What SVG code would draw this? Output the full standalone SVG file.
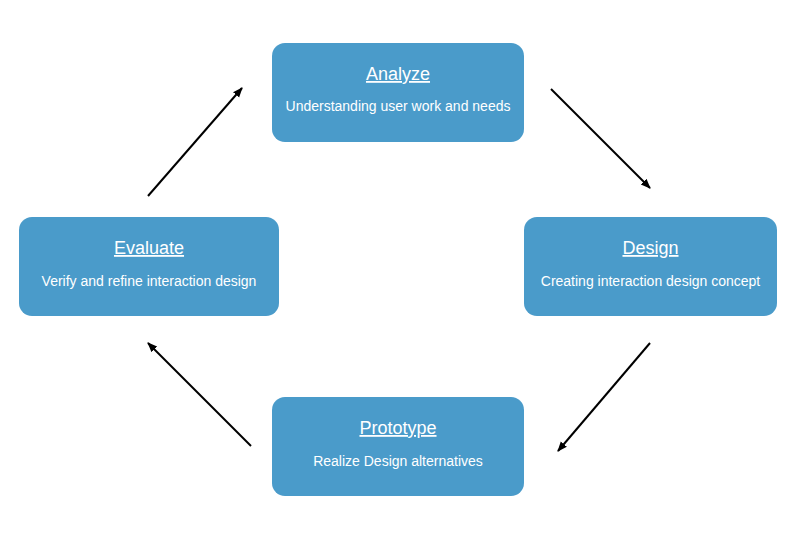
<svg xmlns="http://www.w3.org/2000/svg" width="802" height="544" viewBox="0 0 802 544">
<style>
.box{fill:#4a9bca}
.t{font-family:"Liberation Sans",Arial,sans-serif;fill:#fff;text-anchor:middle}
.h{font-size:18px;text-decoration:underline}
.s{font-size:14px}
.c{stroke:#000;stroke-width:2;fill:none;marker-end:url(#a)}
</style>
<defs><marker id="a" viewBox="0 0 10 10" refX="9" refY="5" markerWidth="5" markerHeight="5" orient="auto" markerUnits="strokeWidth"><path d="M0,1 L10,5 L0,9 z" fill="#000"/></marker></defs>
<rect width="802" height="544" fill="#fff"/>
<g id="analyze"><rect class="box" x="272" y="43" width="252" height="99" rx="13"/><text class="t h" x="398" y="80">Analyze</text><text class="t s" x="398" y="111">Understanding user work and needs</text></g>
<g id="design"><rect class="box" x="524" y="217" width="253" height="99" rx="13"/><text class="t h" x="650.5" y="254">Design</text><text class="t s" x="650.5" y="286">Creating interaction design concept</text></g>
<g id="evaluate"><rect class="box" x="19" y="217" width="260" height="99" rx="13"/><text class="t h" x="149" y="254">Evaluate</text><text class="t s" x="149" y="286">Verify and refine interaction design</text></g>
<g id="prototype"><rect class="box" x="272" y="397" width="252" height="99" rx="13"/><text class="t h" x="398" y="434">Prototype</text><text class="t s" x="398" y="466">Realize Design alternatives</text></g>
<g id="connectors">
<path class="c" d="M551,89 L650,188"/>
<path class="c" d="M650,343 L558,451"/>
<path class="c" d="M251,446 L148,343"/>
<path class="c" d="M148,196 L242,88"/>
</g>
</svg>
